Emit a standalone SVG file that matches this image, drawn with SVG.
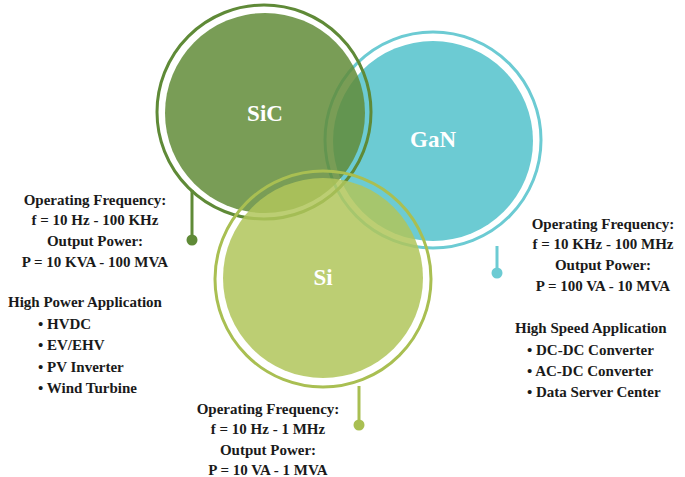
<svg xmlns="http://www.w3.org/2000/svg" width="685" height="477" viewBox="0 0 685 477">
<style>
.t{font-family:"Liberation Serif",serif;font-weight:bold;font-size:15px;fill:#1a1a1a}
.c{text-anchor:middle}
.l{font-family:"Liberation Serif",serif;font-weight:bold;font-size:23px;fill:#fff;text-anchor:middle}
.ring{fill:none;stroke-width:3}
</style>
<rect width="685" height="477" fill="#fff"/>
<g id="gan">
<circle cx="433" cy="140" r="108" class="ring" stroke="#6ccbd3"/>
<circle cx="433" cy="141" r="100" fill="#6ccbd3"/>
<line x1="497" y1="246" x2="497" y2="272" stroke="#6ccbd3" stroke-width="3"/>
<circle cx="497" cy="273" r="5.5" fill="#6ccbd3"/>
</g>
<g id="sic">
<circle cx="264" cy="112" r="107" class="ring" stroke="#5f8a37"/>
<circle cx="265" cy="113" r="100" fill="#628c38" fill-opacity="0.85"/>
<line x1="192" y1="190" x2="192" y2="239" stroke="#5f8a37" stroke-width="3"/>
<circle cx="192" cy="240" r="5.5" fill="#5f8a37"/>
</g>
<g id="si">
<circle cx="323" cy="279" r="108" class="ring" stroke="#a9bf52"/>
<circle cx="323" cy="278" r="100" fill="#b0c65a" fill-opacity="0.85"/>
<line x1="359" y1="386" x2="359" y2="424" stroke="#a9bf52" stroke-width="3"/>
<circle cx="359" cy="425" r="5.5" fill="#a9bf52"/>
</g>
<text class="l" x="265" y="121">SiC</text>
<text class="l" x="433" y="147">GaN</text>
<text class="l" x="323" y="285">Si</text>
<g id="sic-text" class="t">
<text class="t c" x="95" y="205">Operating Frequency:</text>
<text class="t c" x="95" y="225">f = 10 Hz - 100 KHz</text>
<text class="t c" x="95" y="246">Output Power:</text>
<text class="t c" x="95" y="267">P = 10 KVA - 100 MVA</text>
<text class="t" x="8" y="307">High Power Application</text>
<text class="t" x="38" y="329">•  HVDC</text>
<text class="t" x="38" y="350">•  EV/EHV</text>
<text class="t" x="38" y="372">•  PV Inverter</text>
<text class="t" x="38" y="393">•  Wind Turbine</text>
</g>
<g id="gan-text">
<text class="t c" x="603" y="229">Operating Frequency:</text>
<text class="t c" x="603" y="249">f = 10 KHz - 100 MHz</text>
<text class="t c" x="603" y="270">Output Power:</text>
<text class="t c" x="603" y="291">P = 100 VA - 10 MVA</text>
<text class="t" x="515" y="333">High Speed Application</text>
<text class="t" x="527" y="355">•  DC-DC Converter</text>
<text class="t" x="527" y="376">•  AC-DC Converter</text>
<text class="t" x="527" y="397">•  Data Server Center</text>
</g>
<g id="si-text">
<text class="t c" x="268" y="414">Operating Frequency:</text>
<text class="t c" x="268" y="434">f = 10 Hz - 1 MHz</text>
<text class="t c" x="268" y="455">Output Power:</text>
<text class="t c" x="268" y="475">P = 10 VA - 1 MVA</text>
</g>
</svg>
